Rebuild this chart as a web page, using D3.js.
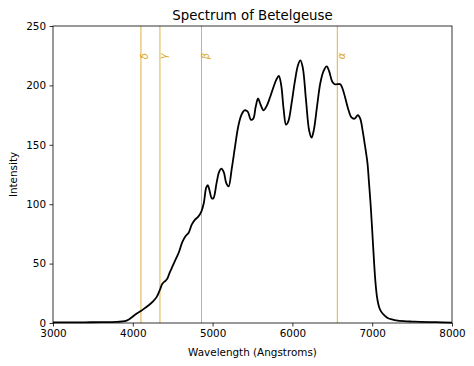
<!DOCTYPE html>
<html><head><meta charset="utf-8">
<script src="https://cdn.jsdelivr.net/npm/d3@7"></script>
<style>body{margin:0;background:#fff}svg{display:block;font-family:"DejaVu Sans",sans-serif}</style>
</head><body><svg id="c" width="474" height="366"></svg>
<script>
const wavelengths = [3000,3200,3400,3600,3800,3900,3950,4000,4050,4100,4150,4200,4250,4300,4340,4370,4400,4430,4460,4500,4540,4580,4620,4660,4700,4740,4780,4820,4860,4890,4920,4940,4960,4990,5010,5050,5080,5110,5140,5170,5200,5240,5280,5320,5360,5400,5440,5480,5510,5540,5570,5600,5640,5680,5720,5760,5800,5830,5860,5890,5920,5950,5990,6030,6070,6100,6130,6170,6210,6240,6270,6310,6350,6390,6430,6460,6500,6530,6560,6600,6630,6660,6700,6740,6780,6820,6850,6880,6910,6940,6960,6980,7000,7020,7040,7060,7080,7100,7130,7160,7200,7250,7300,7400,7500,7600,7800,8000];
const intensity = [0.5,0.5,0.6,0.7,1.0,1.5,3,5.5,8,10,12.5,15,18,22,28,33,35,37,42,48,54,60,68,73,76,83,87,89.5,94,101,114,116,112,105,105,118,127,130,127,118,115,130,148,165,175,179,178,171,172,182,189,184,179,183,190,198,205,208,200,180,167,170,185,203,217,221,215,188,162,156,163,183,202,212,216,212,203,201,201,201,197,190,180,173,172,175,172,162,149,135,118,100,78,55,35,22,15,11,8,6,4,3,2.2,1.5,1.2,1.0,0.7,0.4];
const lineNames = ["δ","γ","β","α"];
const lineWavelengths = [4102,4340,4861,6563];
const xTicks = [3000,4000,5000,6000,7000,8000];
const yTicks = [0,50,100,150,200,250];

const svg = d3.select("#c");
const m = {l:53, r:452, t:26, b:323};
const x = d3.scaleLinear().domain([3000,8000]).range([m.l,m.r]);
const y = d3.scaleLinear().domain([0,250]).range([m.b,m.t]);

const gold = "#DAA520";
svg.append("g").selectAll("line").data(lineWavelengths).join("line")
  .attr("x1",d=>x(d)).attr("x2",d=>x(d)).attr("y1",m.t).attr("y2",m.b)
  .attr("stroke",gold).attr("stroke-width",1).attr("opacity",0.85);
svg.append("g").selectAll("text").data(lineWavelengths).join("text")
  .attr("transform",d=>`translate(${x(d)+7.5},${y(222)}) rotate(-90)`)
  .attr("fill",gold).attr("font-size",10).attr("font-style","italic")
  .text((d,i)=>lineNames[i]);

const data = wavelengths.map((w,i)=>[w,intensity[i]]);
svg.append("path").datum(data)
  .attr("d", d3.line().x(d=>x(d[0])).y(d=>y(d[1])).curve(d3.curveCatmullRom.alpha(0.5)))
  .attr("fill","none").attr("stroke","#000").attr("stroke-width",1.8).attr("stroke-linejoin","round");

const xa = svg.append("g").attr("transform",`translate(0,${m.b})`)
  .call(d3.axisBottom(x).tickValues(xTicks).tickFormat(d3.format("d")).tickSizeOuter(0).tickSize(3.5).tickPadding(3.5));
const ya = svg.append("g").attr("transform",`translate(${m.l},0)`)
  .call(d3.axisLeft(y).tickValues(yTicks).tickFormat(d3.format("d")).tickSizeOuter(0).tickSize(3.5).tickPadding(3.5));
[xa,ya].forEach(g=>{g.selectAll("text").attr("font-size",10.4).attr("fill","#000").attr("font-family","DejaVu Sans");
  g.selectAll(".tick line").attr("stroke","#000").attr("stroke-width",0.8);
  g.select(".domain").remove();});

svg.append("rect").attr("x",m.l).attr("y",m.t).attr("width",m.r-m.l).attr("height",m.b-m.t)
  .attr("fill","none").attr("stroke","#000").attr("stroke-width",0.8);

svg.append("text").attr("x",(m.l+m.r)/2).attr("y",19.5).attr("text-anchor","middle")
  .attr("font-size",13.3).text("Spectrum of Betelgeuse");
svg.append("text").attr("x",(m.l+m.r)/2).attr("y",356).attr("text-anchor","middle")
  .attr("font-size",10.4).text("Wavelength (Angstroms)");
svg.append("text").attr("transform",`translate(17,${(m.t+m.b)/2}) rotate(-90)`).attr("text-anchor","middle")
  .attr("font-size",10.4).text("Intensity");
</script></body></html>
